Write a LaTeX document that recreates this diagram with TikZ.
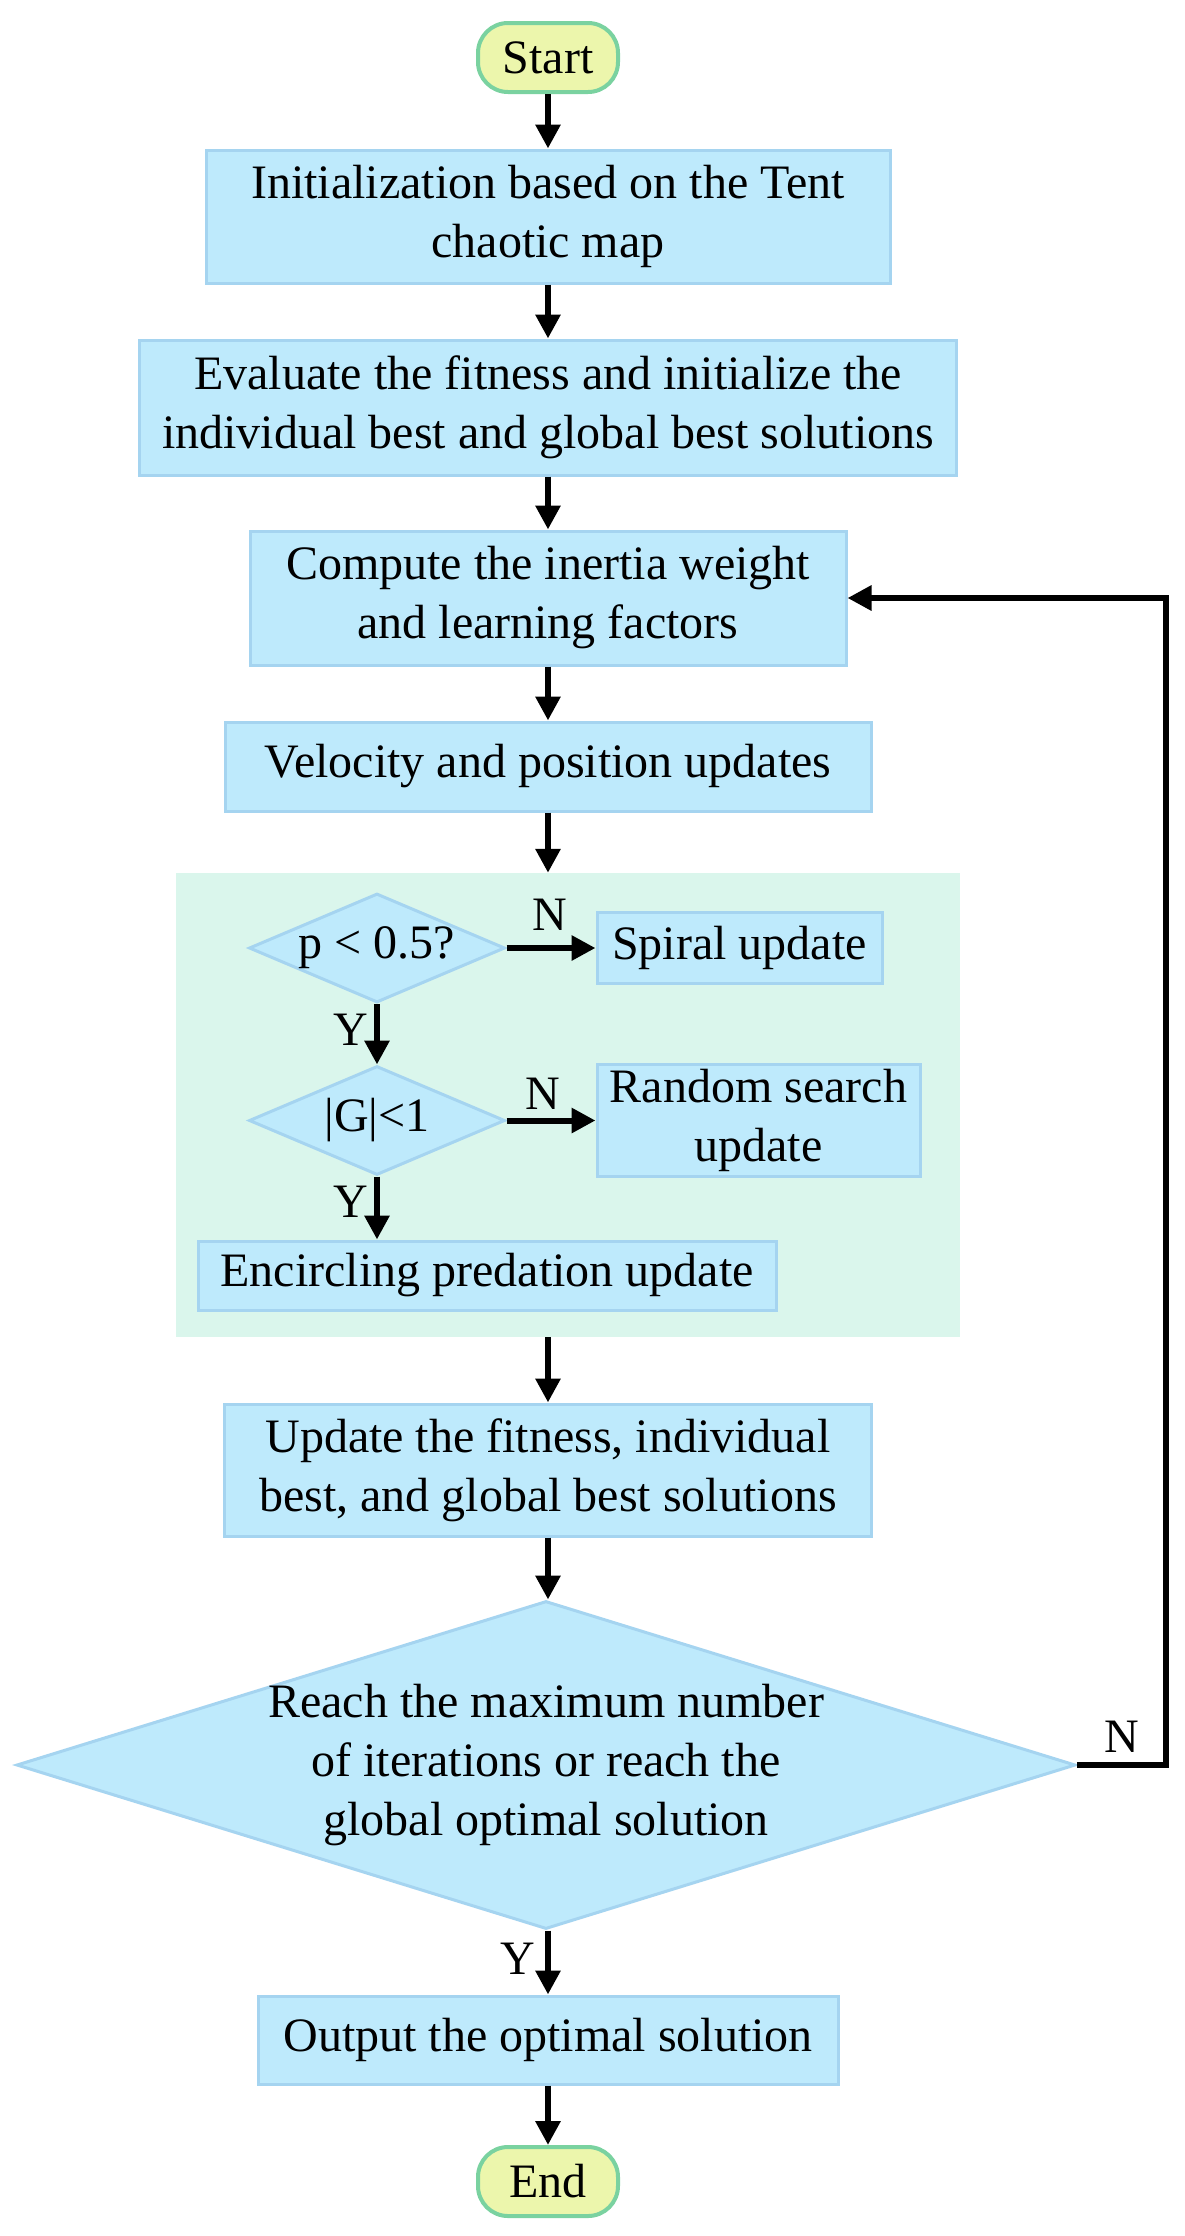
\documentclass[tikz,border=0pt]{standalone}
\usepackage{fontspec}
\setmainfont{Liberation Serif}
\usetikzlibrary{shapes.geometric,arrows.meta}
\definecolor{boxfill}{RGB}{190,234,252}
\definecolor{boxline}{RGB}{165,212,240}
\definecolor{panelfill}{RGB}{218,246,236}
\definecolor{termfill}{RGB}{236,246,172}
\definecolor{termline}{RGB}{122,210,160}
\begin{document}
\begin{tikzpicture}[x=1pt,y=-1pt,
  txt/.style={font=\fontsize{48}{59}\selectfont, text=black},
  procbox/.style={txt, rectangle, fill=boxfill, draw=boxline, line width=3pt, align=center, inner sep=0pt},
  decide/.style={txt, diamond, fill=boxfill, draw=boxline, line width=3pt, align=center, inner ysep=0pt},
  term/.style={txt, rectangle, rounded corners=30pt, fill=termfill, draw=termline, line width=4pt, inner sep=0pt, minimum width=140pt, minimum height=69pt},
  arr/.style={line width=6pt, -{Triangle[length=24pt,width=24pt]}, black},
  lbl/.style={txt, inner sep=0pt}]
\useasboundingbox (0,0) rectangle (1185,2236);
\fill[white] (0,0) rectangle (1185,2236);

% panel
\node[fill=panelfill, minimum width=784pt, minimum height=464pt, inner sep=0pt] (panel) at (568,1105) {};

% main column
\node[term] (start) at (548,57.5) {Start};
\node[procbox, minimum width=684pt, minimum height=133pt] (b1) at (548,216.5) {Initialization based on the Tent\\chaotic map};
\node[procbox, minimum width=817pt, minimum height=135pt] (b2) at (548,407.5) {Evaluate the fitness and initialize the\\individual best and global best solutions};
\node[procbox, minimum width=596pt, minimum height=134pt] (b3) at (548,598) {Compute the inertia weight\\and learning factors};
\node[procbox, minimum width=646pt, minimum height=89pt] (b4) at (548,766.5) {Velocity and position updates};

% panel content
\node[decide, inner xsep=-10pt, aspect=2.35, minimum width=256pt, minimum height=109pt] (d1) at (377,948) {p < 0.5?};
\node[procbox, minimum width=285pt, minimum height=71pt] (sp) at (739.5,948) {Spiral update};
\node[decide, inner xsep=-10pt, aspect=2.35, minimum width=256pt, minimum height=109pt] (d2) at (377,1120.5) {|G|<1};
\node[procbox, minimum width=323pt, minimum height=112pt] (rs) at (758.5,1120.5) {Random search\\update};
\node[procbox, minimum width=578pt, minimum height=69pt] (enc) at (487,1275.5) {Encircling predation update};

\node[procbox, minimum width=647pt, minimum height=132pt] (b5) at (548,1470) {Update the fitness, individual\\best, and global best solutions};
\node[decide, inner xsep=-20pt, aspect=3.2, minimum width=1059pt, minimum height=328pt] (d3) at (546,1765) {Reach the maximum number\\of iterations or reach the\\global optimal solution};
\node[procbox, minimum width=580pt, minimum height=88pt] (out) at (548,2040) {Output the optimal solution};
\node[term] (end) at (548,2181.5) {End};

% connectors
\draw[arr] (start.south) -- (b1.north);
\draw[arr] (b1.south) -- (b2.north);
\draw[arr] (b2.south) -- (b3.north);
\draw[arr] (b3.south) -- (b4.north);
\draw[arr] (b4.south) -- (b4.south |- panel.north);
\draw[arr] (d1.east) -- (sp.west);
\draw[arr] (d1.south) -- (d2.north);
\draw[arr] (d2.east) -- (rs.west);
\draw[arr] (d2.south) -- (d2.south |- enc.north);
\draw[arr] (b5.north |- panel.south) -- (b5.north);
\draw[arr] (b5.south) -- (b5.south |- d3.north);
\draw[arr] (out.north |- d3.south) -- (out.north);
\draw[arr] (out.south) -- (end.north);
\coordinate (fb) at (1166,1765);
\draw[arr, line join=miter] (d3.east) -- (fb) |- (b3.east);

% labels
\node[lbl] (n1) at (550,915) {N};
\node[lbl] (y1) at (351,1030) {Y};
\node[lbl] (n2) at (543,1094) {N};
\node[lbl] (y2) at (351,1202) {Y};
\node[lbl] (n3) at (1122,1737) {N};
\node[lbl] (y3) at (518,1959) {Y};
\end{tikzpicture}
\end{document}
